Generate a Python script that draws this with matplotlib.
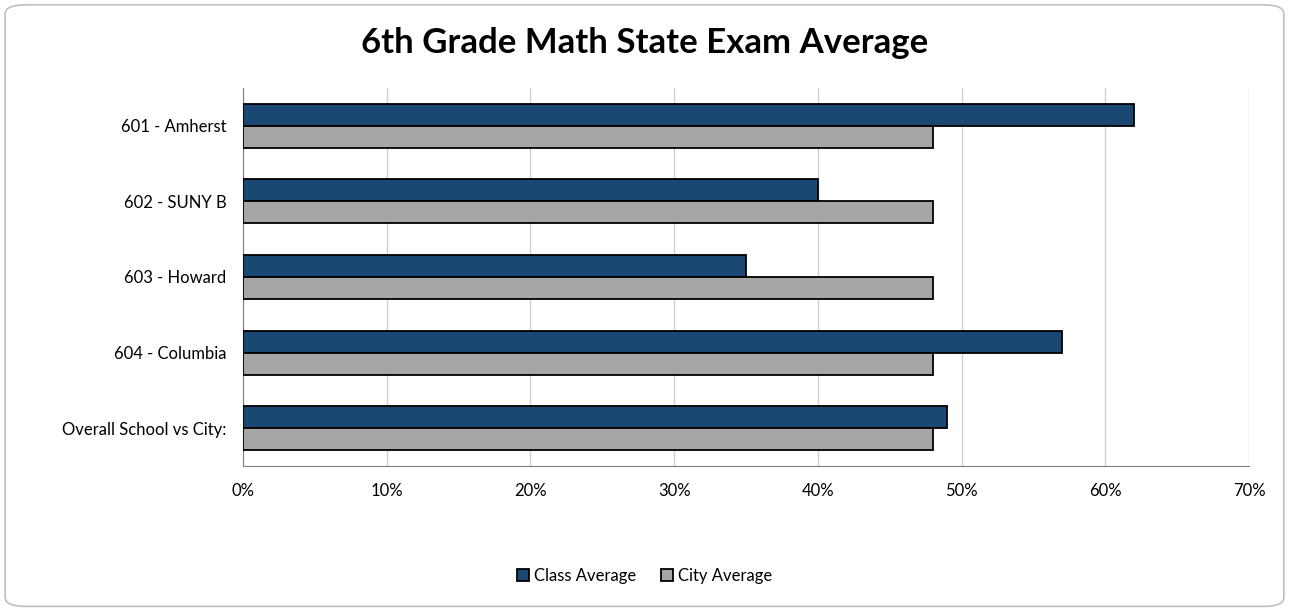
import matplotlib
matplotlib.use("Agg")
import matplotlib.pyplot as plt
from matplotlib.patches import FancyBboxPatch
from matplotlib.ticker import PercentFormatter
import numpy as np

plt.rcParams['font.family'] = ['Lato', 'DejaVu Sans']

categories = ["601 - Amherst", "602 - SUNY B", "603 - Howard", "604 - Columbia", "Overall School vs City:"]
class_avg = [62, 40, 35, 57, 49]
city_avg = [48, 48, 48, 48, 48]

fig = plt.figure(figsize=(12.89, 6.10), dpi=100)
ax = fig.add_axes([0.1885, 0.236, 0.7805, 0.62])

# rounded outer frame
fig.patches.append(FancyBboxPatch((0.004, 0.006), 0.992, 0.986, boxstyle="round,pad=0,rounding_size=0.015",
                                  transform=fig.transFigure, facecolor="none", edgecolor="#bfbfbf", lw=1.2))

y = np.arange(len(categories))
h = 0.29
ax.barh(y - h/2, class_avg, height=h, color="#1b4872", edgecolor="black", lw=1.3, label="Class Average", zorder=3)
ax.barh(y + h/2, city_avg, height=h, color="#a6a6a6", edgecolor="black", lw=1.3, label="City Average", zorder=3)

ax.set_yticks(y)
ax.set_yticklabels(categories, fontsize=12)
ax.set_ylim(len(categories) - 0.5, -0.5)
ax.set_xlim(0, 70)
ax.set_xticks(np.arange(0, 71, 10))
ax.xaxis.set_major_formatter(PercentFormatter(decimals=0))
ax.tick_params(axis='x', labelsize=12, length=0, pad=12)
ax.tick_params(axis='y', length=0, pad=12)
ax.grid(axis='x', color="#d0d0d0", lw=1, zorder=0)

for s in ["top", "right"]:
    ax.spines[s].set_visible(False)
ax.spines["left"].set_color("#7f7f7f")
ax.spines["bottom"].set_color("#7f7f7f")

fig.text(0.5, 0.93, "6th Grade Math State Exam Average", ha="center", va="center", fontsize=25, fontweight="bold")

fig.legend(loc="center", bbox_to_anchor=(0.5, 0.056), ncol=2, frameon=False, fontsize=12,
           handlelength=0.7, handleheight=0.7, handletextpad=0.3, columnspacing=1.5)

fig.savefig("out.png", dpi=100)
